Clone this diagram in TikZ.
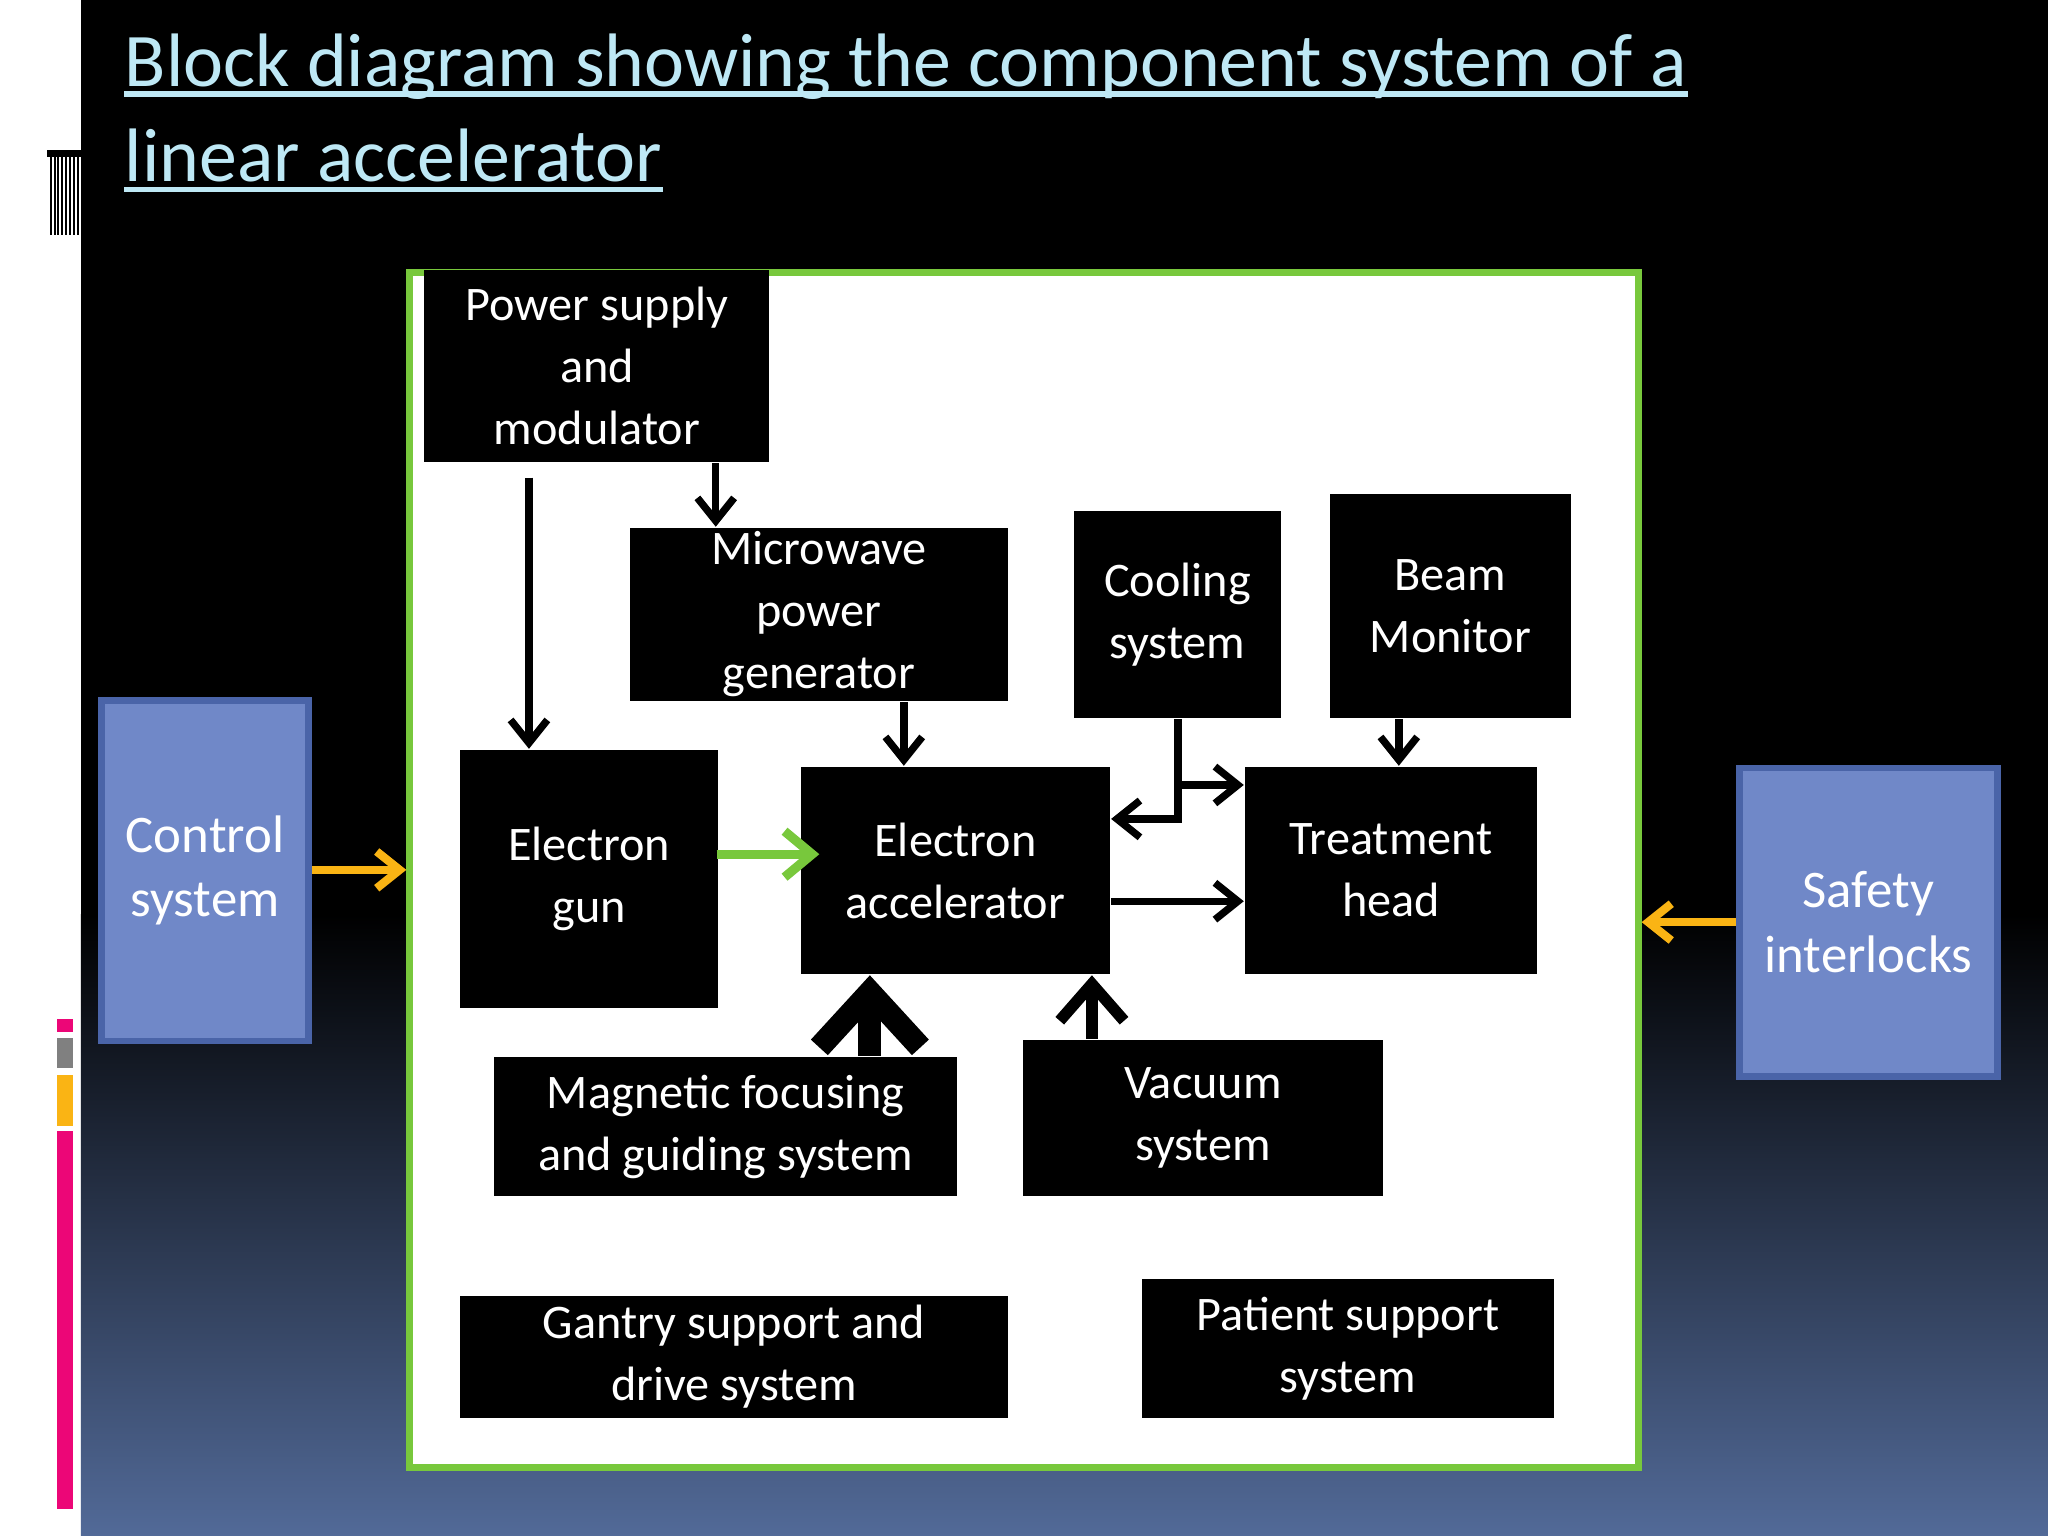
\documentclass[tikz,border=0pt]{standalone}
\usepackage{fontspec}
\setmainfont{Carlito}
\usetikzlibrary{arrows.meta,calc}
\definecolor{ttl}{RGB}{190,232,245}
\definecolor{ctl}{RGB}{112,136,200}
\definecolor{ctlb}{RGB}{74,100,168}
\definecolor{grn}{RGB}{120,200,60}
\definecolor{org}{RGB}{250,180,20}
\begin{document}
\begin{tikzpicture}[x=0.01cm,y=-0.01cm,
 box/.style={fill=black,text=white,align=center,inner sep=0pt,font=\fontsize{10.5}{13.5}\selectfont},
 blue/.style={fill=ctl,draw=ctlb,line width=1.5pt,text=white,align=center,inner sep=0pt,font=\fontsize{11.5}{14}\selectfont},
 arr/.style={-{Straight Barb[length=5pt,width=8pt]},line width=1.6pt,black},
 oarr/.style={-{Straight Barb[length=5pt,width=8pt]},line width=1.8pt,org}]
\newcommand{\bx}[7]{\node[#1,minimum width={(#5-#3)*0.01cm},minimum height={(#6-#4)*0.01cm}] (#2) at ({(#3+#5)/2},{(#4+#6)/2}) {#7};}
\useasboundingbox (0,0) rectangle (1568,1176);
\fill[white] (0,0) rectangle (62,1176);
\fill[black] (62,0) rectangle (1568,700);
\shade[top color=black,bottom color={rgb,255:red,82;green,106;blue,152}] (62,700) rectangle (1568,1176);
% left decorations
\foreach \x in {38,41,44,47,50,53,56,59} \fill[black] (\x,115) rectangle ++(1.5,65);
\fill[black] (36,115) rectangle (62,120);
\fill[magenta!80!red] (44,780) rectangle (56,790);
\fill[gray] (44,795) rectangle (56,818);
\fill[org] (44,823) rectangle (56,862);
\fill[magenta!80!red] (44,866) rectangle (56,1155);
% title
\node[anchor=base west,text=ttl,inner sep=0pt,font=\fontsize{16.5}{20}\selectfont] (t1) at (95,66) {Block diagram showing the component system of a};
\node[anchor=base west,text=ttl,inner sep=0pt,font=\fontsize{16.5}{20}\selectfont] (t2) at (95,139) {linear accelerator};
\draw[ttl,line width=1.2pt] (t1.base west)+(0,6) -- ($(t1.base east)+(0,6)$);
\draw[ttl,line width=1.2pt] (t2.base west)+(0,6) -- ($(t2.base east)+(0,6)$);
% frame
\node[fill=white,draw=grn,line width=1.5pt,minimum width=9.4cm,minimum height=9.14cm,inner sep=0pt] (frame) at (784,666) {};
\bx{box}{pw}{325}{207}{589}{354}{Power supply\\and\\modulator}
\bx{box}{mw}{482}{404}{772}{537}{Microwave\\power\\generator}
\bx{box}{cool}{822}{391}{981}{550}{Cooling\\system}
\bx{box}{bm}{1018}{378}{1203}{550}{Beam\\Monitor}
\bx{box}{gun}{352}{574}{550}{772}{Electron\\gun}
\bx{box}{acc}{613}{587}{850}{746}{Electron\\accelerator}
\bx{box}{th}{953}{587}{1177}{746}{Treatment\\head}
\bx{box}{mag}{378}{809}{733}{916}{Magnetic focusing\\and guiding system}
\bx{box}{vac}{783}{796}{1059}{916}{Vacuum\\system}
\bx{box}{gan}{352}{992}{772}{1086}{Gantry support and\\drive system}
\bx{box}{pat}{874}{979}{1190}{1086}{Patient support\\system}
\bx{blue}{ctl}{78}{536}{236}{797}{Control\\system}
\bx{blue}{saf}{1332}{588}{1529}{824}{Safety\\interlocks}
\coordinate (x405) at (405,0);
\coordinate (x548) at (548,0);
\coordinate (x692) at (692,0);
\coordinate (x902) at (902,0);
\coordinate (x1071) at (1071,0);
\coordinate (x666) at (666,0);
\coordinate (x836) at (836,0);
\coordinate (y627) at (0,627);
\coordinate (y601) at (0,601);
\coordinate (y690) at (0,690);
\coordinate (y654) at (0,654);
\coordinate (y666) at (0,666);
\coordinate (y706) at (0,706);
\draw[arr] ($(pw.south -| x405)+(0,11)$) -- (gun.north -| x405);
\draw[arr] (pw.south -| x548) -- (mw.north -| x548);
\draw[arr] (mw.south -| x692) -- (acc.north -| x692);
\draw[arr] (cool.south -| x902) |- (acc.east |- y627);
\draw[arr] (x902 |- y601) -- (th.west |- y601);
\draw[arr] (bm.south -| x1071) -- (th.north -| x1071);
\draw[arr] (acc.east |- y690) -- (th.west |- y690);
\draw[-{Straight Barb[length=6pt,width=10pt]},line width=2pt,grn] ($(gun.east |- y654)+(-2,0)$) -- ($(acc.west |- y654)+(15,0)$);
\draw[-{Straight Barb[length=12pt,width=22pt]},line width=5pt] (mag.north -| x666) -- (acc.south -| x666);
\draw[-{Straight Barb[length=8pt,width=14pt]},line width=2.5pt] (vac.north -| x836) -- (acc.south -| x836);
\draw[oarr] (ctl.east |- y666) -- (frame.west |- y666);
\draw[oarr] (saf.west |- y706) -- (frame.east |- y706);
\end{tikzpicture}
\end{document}
